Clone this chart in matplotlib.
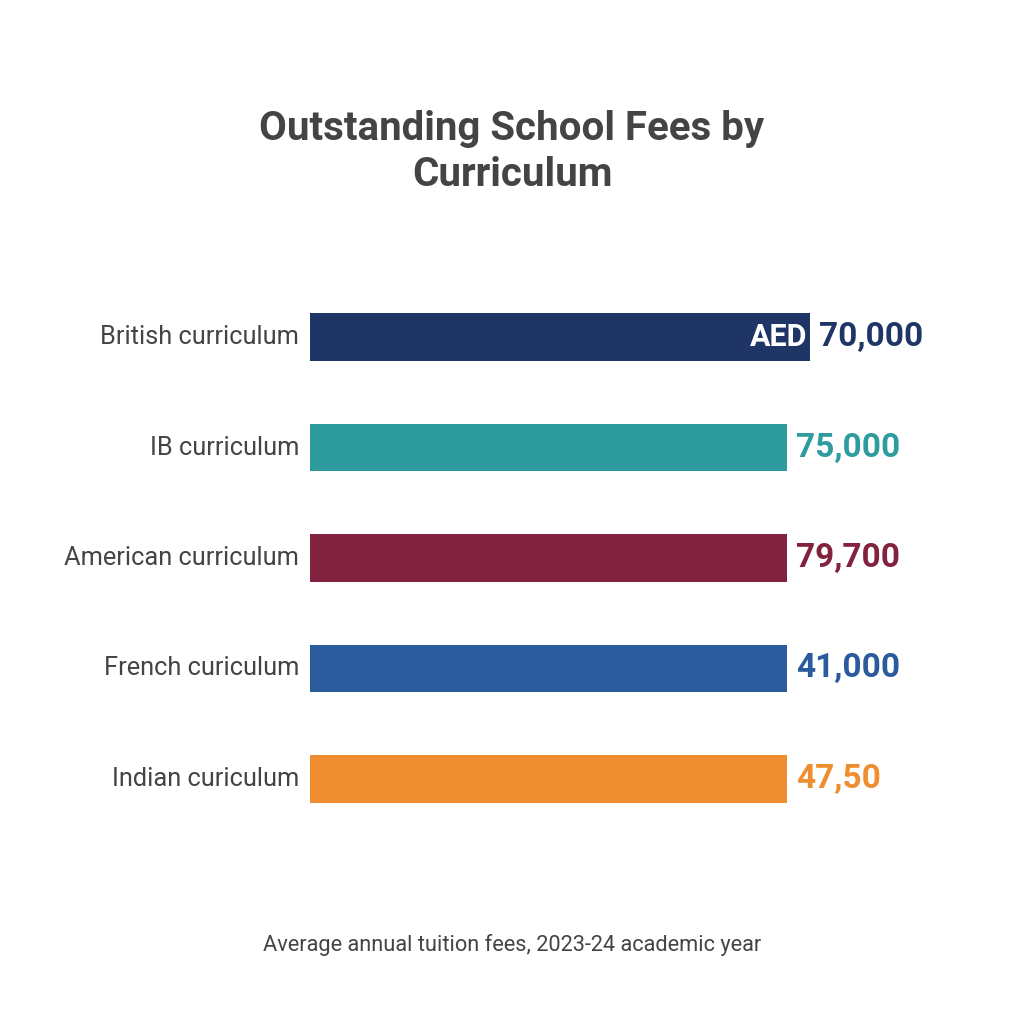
import matplotlib.pyplot as plt

plt.rcParams['font.family'] = ['Roboto', 'DejaVu Sans']

categories = ['British curriculum', 'IB curriculum', 'American curriculum',
              'French curiculum', 'Indian curiculum']
value_labels = ['70,000', '75,000', '79,700', '41,000', '47,50']
# drawn lengths as they appear in the picture (relative units)
bar_lengths = [100, 95.4, 95.4, 95.4, 95.4]
colors = ['#1f3566', '#2e9c9f', '#82223f', '#2a5b9c', '#ef8e30']

fig = plt.figure(figsize=(10.24, 10.24), dpi=100)
ax = fig.add_axes([310 / 1024, 1 - 834 / 1024, 500 / 1024, 552 / 1024])
ax.set_xlim(0, 100)
ax.set_ylim(4.5, -0.5)

ypos = range(len(categories))
ax.barh(ypos, bar_lengths, height=0.43, color=colors)

for i, (cat, lab, length, c) in enumerate(zip(categories, value_labels, bar_lengths, colors)):
    ax.text(-2.2, i, cat, ha='right', va='center', fontsize=18.3, color='#444444')
    ax.text(length + 1.8, i, lab, ha='left', va='center', fontsize=24,
            fontweight='bold', color=c, clip_on=False)
    if i == 0:
        ax.text(length - 0.6, i, 'AED', ha='right', va='center', fontsize=22,
                fontweight='bold', color='white')

ax.axis('off')

fig.text(0.5, 1 - 152 / 1024, 'Outstanding School Fees by\nCurriculum', ha='center',
         va='center', fontsize=29, fontweight='bold', color='#444444', linespacing=1.3)
fig.text(0.5, 1 - 945 / 1024, 'Average annual tuition fees, 2023-24 academic year',
         ha='center', va='center', fontsize=15.7, color='#444444')

fig.savefig('out.png', dpi=100, facecolor='white')
